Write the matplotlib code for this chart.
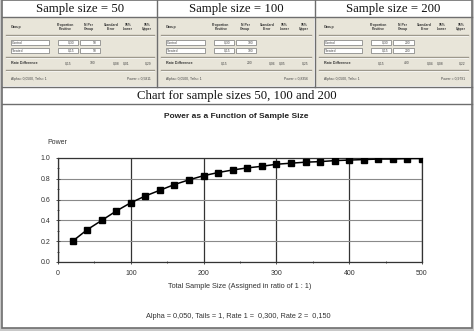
import numpy as np
import matplotlib.pyplot as plt
from matplotlib.patches import Rectangle
from matplotlib.ticker import MultipleLocator

# power curve: total sample size vs power
sizes = [20, 40, 60, 80, 100, 120, 140, 160, 180, 200, 220, 240, 260,
         280, 300, 320, 340, 360, 380, 400, 420, 440, 460, 480, 500]
power = [0.20, 0.31, 0.40, 0.49, 0.57, 0.635, 0.69, 0.745, 0.79, 0.83,
         0.86, 0.885, 0.905, 0.92, 0.94, 0.95, 0.96, 0.965, 0.975, 0.98,
         0.985, 0.99, 0.99, 0.995, 0.995]

# the three calculator screenshots
headers = ['Sample size = 50', 'Sample size = 100', 'Sample size = 200']
n_group = ['50', '100', '200']
rate_rows = [['0,15', '100', '0,08', '0,01', '0,29'],
             ['0,15', '200', '0,06', '0,05', '0,25'],
             ['0,15', '400', '0,04', '0,08', '0,22']]
power_txt = ['Power = 0,5811', 'Power = 0,8356', 'Power = 0,9791']
col_names = ['Proportion\nPositive', 'N Per\nGroup', 'Standard\nError',
             '95%\nLower', '95%\nUpper']

serif = 'Liberation Serif'
sans = 'Liberation Sans'

fig = plt.figure(figsize=(4.74, 3.31), dpi=100)
ax0 = fig.add_axes([0, 0, 1, 1])
ax0.set_xlim(0, 474)
ax0.set_ylim(331, 0)
ax0.axis('off')

# table frame
frame = '#6e6e6e'
ax0.add_patch(Rectangle((0, 0), 474, 331, fc='#c8c8c8', ec='none'))
ax0.add_patch(Rectangle((2, 0), 470, 328, fc='white', ec=frame, lw=1.2))
for y in [17, 87, 104]:
    ax0.plot([2, 472], [y, y], color=frame, lw=1.0)
for x in [157, 315]:
    ax0.plot([x, x], [0, 87], color=frame, lw=1.0)

cells = [(3, 154), (158, 156), (316, 155)]
for (x0, w), head, ng, rr, pw in zip(cells, headers, n_group, rate_rows, power_txt):
    ax0.text(x0 + w / 2, 9, head, fontsize=9.2, family=serif,
             ha='center', va='center', color='#111111')
    ax0.add_patch(Rectangle((x0, 18), w, 68, fc='#e8e5d9', ec='none'))
    s = w / 154.0
    ax0.text(x0 + 8 * s, 27, 'Group', fontsize=2.6, family=sans,
             weight='bold', va='center', color='#333333')
    for cx, name in zip([62, 86, 108, 125, 144], col_names):
        ax0.text(x0 + cx * s, 27, name, fontsize=2.4, family=sans,
                 weight='bold', ha='center', va='center', color='#333333',
                 linespacing=0.9)
    for y in [35, 57, 70]:
        ax0.plot([x0 + 3, x0 + w - 3], [y, y], color='#9c988c', lw=1.0)
        ax0.plot([x0 + 3, x0 + w - 3], [y + 1, y + 1], color='white', lw=0.5)
    for y, lab, p in [(40, 'Control', '0,30'), (48, 'Treated', '0,15')]:
        ax0.add_patch(Rectangle((x0 + 8 * s, y), 38 * s, 5, fc='white',
                                ec='#777777', lw=0.5))
        ax0.text(x0 + 9 * s, y + 2.6, lab, fontsize=2.4, family=sans,
                 va='center', color='#444444')
        ax0.add_patch(Rectangle((x0 + 55 * s, y), 20 * s, 5, fc='white',
                                ec='#777777', lw=0.5))
        ax0.text(x0 + 72 * s, y + 2.6, p, fontsize=2.4, family=sans,
                 ha='right', va='center', color='#444444')
        ax0.add_patch(Rectangle((x0 + 77 * s, y), 20 * s, 5, fc='white',
                                ec='#777777', lw=0.5))
        ax0.text(x0 + 94 * s, y + 2.6, ng, fontsize=2.4, family=sans,
                 ha='right', va='center', color='#444444')
    ax0.text(x0 + 8 * s, 63.5, 'Rate Difference', fontsize=2.6, family=sans,
             weight='bold', va='center', color='#333333')
    for cx, v in zip([65, 90, 113, 123, 145], rr):
        ax0.text(x0 + cx * s, 63.5, v, fontsize=2.4, family=sans,
                 ha='center', va='center', color='#444444')
    ax0.text(x0 + 8 * s, 79, 'Alpha= 0,0500, Tails= 1', fontsize=2.4,
             family=sans, va='center', color='#444444')
    ax0.text(x0 + w - 6, 79, pw, fontsize=2.4, family=sans,
             ha='right', va='center', color='#444444')

ax0.text(237, 95.5, 'Chart for sample sizes 50, 100 and 200', fontsize=9.2,
         family=serif, ha='center', va='center', color='#111111')

# chart texts
ax0.text(236, 117, 'Power as a Function of Sample Size', fontsize=6.0,
         family=sans, weight='bold', ha='center', va='center', color='#222222')
ax0.text(47, 143, 'Power', fontsize=5, family=sans, va='center',
         color='#333333')
ax0.text(240, 287, 'Total Sample Size (Assigned in ratio of 1 : 1)',
         fontsize=5.3, family=sans, ha='center', va='center', color='#333333')
ax0.text(238, 316, 'Alpha = 0,050, Tails = 1, Rate 1 =  0,300, Rate 2 =  0,150',
         fontsize=5.3, family=sans, ha='center', va='center', color='#333333')

# power chart
ax = fig.add_axes([58 / 474, (331 - 262) / 331, 364 / 474, 104 / 331])
ax.plot(sizes, power, color='black', lw=1.1, marker='s', ms=4.8,
        mfc='black', mec='black', zorder=3)
ax.set_xlim(0, 500)
ax.set_ylim(0, 1.0)
ax.xaxis.set_major_locator(MultipleLocator(100))
ax.xaxis.set_minor_locator(MultipleLocator(50))
ax.yaxis.set_major_locator(MultipleLocator(0.2))
ax.yaxis.set_minor_locator(MultipleLocator(0.1))
ax.set_yticks([0, 0.2, 0.4, 0.6, 0.8, 1.0])
ax.set_yticklabels(['0.0', '0.2', '0.4', '0.6', '0.8', '1.0'])
ax.grid(axis='x', which='major', color='#333333', lw=0.9)
ax.grid(axis='y', which='major', color='#8a8a8a', lw=0.8)
for sp in ax.spines.values():
    sp.set_color('#333333')
    sp.set_linewidth(0.9)
ax.tick_params(which='both', direction='inout', colors='#333333',
               labelsize=5, length=3, width=0.6, pad=4)
ax.tick_params(which='minor', length=2)
for lab in ax.get_xticklabels() + ax.get_yticklabels():
    lab.set_family(sans)
ax.set_facecolor('white')

fig.savefig('out.png', dpi=100)
